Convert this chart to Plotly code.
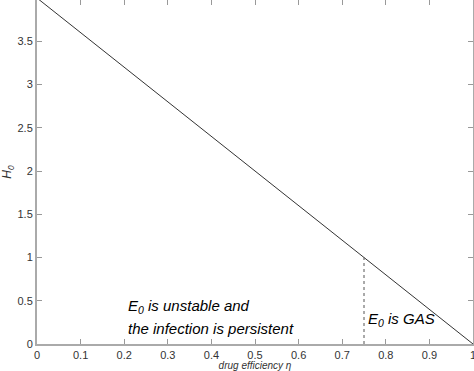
import plotly.graph_objects as go

eta = [0.0, 1.0]
H0 = [4.0, 0.0]
gas_eta = [0.75, 0.75]
gas_H = [0.0, 1.0]
xticks = [0, 0.1, 0.2, 0.3, 0.4, 0.5, 0.6, 0.7, 0.8, 0.9, 1]
xticklabels = ["0", "0.1", "0.2", "0.3", "0.4", "0.5", "0.6", "0.7", "0.8", "0.9", "1"]
yticks = [0, 0.5, 1, 1.5, 2, 2.5, 3, 3.5]
yticklabels = ["0", "0.5", "1", "1.5", "2", "2.5", "3", "3.5"]

FONT = "Liberation Sans, Arial, Helvetica, sans-serif"

fig = go.Figure()
fig.add_trace(go.Scatter(x=eta, y=H0, mode="lines",
                         line=dict(color="#333333", width=1), showlegend=False))
fig.add_trace(go.Scatter(x=gas_eta, y=gas_H, mode="lines",
                         line=dict(color="#555555", width=1, dash="dot"), showlegend=False))

axis_common = dict(showgrid=False, zeroline=False, ticks="inside", ticklen=5,
                   tickcolor="#999999", tickwidth=1, mirror="ticks",
                   showline=True, linecolor="#aaaaaa", linewidth=2,
                   tickfont=dict(family=FONT, size=11, color="#333333"))

fig.update_xaxes(range=[0, 1], tickvals=xticks, ticktext=xticklabels,
                 title=dict(text="<i>drug efficiency η</i>", standoff=2,
                            font=dict(family=FONT, size=10, color="#333333")),
                 **axis_common)
fig.update_yaxes(range=[0, 3.977], tickvals=yticks, ticktext=yticklabels,
                 title=dict(text="<i>H<sub>0</sub></i>", standoff=4,
                            font=dict(family=FONT, size=12, color="#333333")),
                 **axis_common)

fig.add_annotation(x=0.205, y=0.43, xref="x", yref="y", xanchor="left", yanchor="middle",
                   text="<i>E<sub>0</sub> is unstable and</i>",
                   showarrow=False, align="left",
                   font=dict(family=FONT, size=15, color="#000000"))
fig.add_annotation(x=0.205, y=0.185, xref="x", yref="y", xanchor="left", yanchor="middle",
                   text="<i>the infection is persistent</i>",
                   showarrow=False, align="left",
                   font=dict(family=FONT, size=15, color="#000000"))
fig.add_annotation(x=0.755, y=0.28, xref="x", yref="y", xanchor="left", yanchor="middle",
                   text="<i>E<sub>0</sub> is GAS</i>",
                   showarrow=False, align="left",
                   font=dict(family=FONT, size=15, color="#000000"))

fig.update_layout(width=480, height=373,
                  margin=dict(l=37, r=7, t=0, b=27),
                  plot_bgcolor="white", paper_bgcolor="white",
                  font=dict(family=FONT))

fig.write_html("out.html", config={"displayModeBar": False},
               post_script="document.body.style.margin='0';document.body.style.marginTop='-2px';"
                           "document.body.style.overflow='hidden';")
